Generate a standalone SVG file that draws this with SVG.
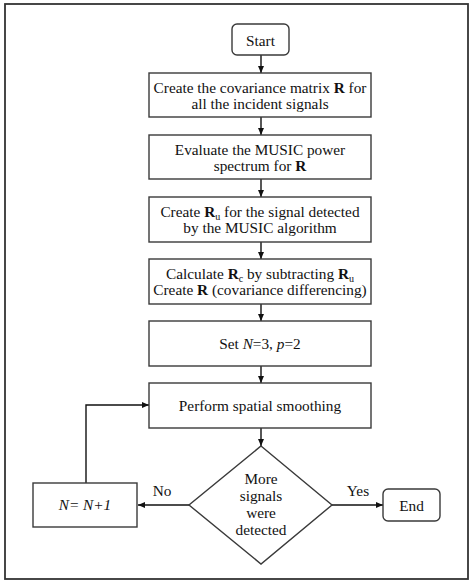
<svg xmlns="http://www.w3.org/2000/svg" width="474" height="586" viewBox="0 0 474 586">
<style>
.bx{fill:#fff;stroke:#3a3a3a;stroke-width:1.4}
.t{font-family:"Liberation Serif","DejaVu Serif",serif;font-size:15.3px;fill:#111;text-anchor:middle}
.c{fill:none;stroke:#111;stroke-width:1.4}
.b{font-weight:bold}
.i{font-style:italic}
.s{font-size:10px;baseline-shift:-3px}
</style>
<defs>
<marker id="ah" markerWidth="8" markerHeight="8" refX="7" refY="4" orient="auto" markerUnits="userSpaceOnUse">
<path d="M0,1 L7,4 L0,7 Z" fill="#111"/>
</marker>
</defs>
<rect x="0" y="0" width="474" height="586" fill="#fff"/>
<rect x="5" y="4" width="463" height="575" fill="none" stroke="#333" stroke-width="1.8"/>
<g id="connectors">
<line class="c" x1="261" y1="55" x2="261" y2="73" marker-end="url(#ah)"/>
<line class="c" x1="261" y1="117" x2="261" y2="135" marker-end="url(#ah)"/>
<line class="c" x1="261" y1="179" x2="261" y2="197" marker-end="url(#ah)"/>
<line class="c" x1="261" y1="242" x2="261" y2="259" marker-end="url(#ah)"/>
<line class="c" x1="261" y1="304" x2="261" y2="321" marker-end="url(#ah)"/>
<line class="c" x1="261" y1="366" x2="261" y2="383" marker-end="url(#ah)"/>
<line class="c" x1="261" y1="428" x2="261" y2="446" marker-end="url(#ah)"/>
<line class="c" x1="189" y1="505" x2="138" y2="505" marker-end="url(#ah)"/>
<line class="c" x1="332" y1="505" x2="383" y2="505" marker-end="url(#ah)"/>
<polyline class="c" points="86,483 86,405 149,405" marker-end="url(#ah)"/>
<text class="t" x="162" y="496">No</text>
<text class="t" x="358" y="496">Yes</text>
</g>
<g id="start">
<rect class="bx" x="232" y="24" width="57" height="31" rx="5"/>
<text class="t" x="260.5" y="45.5">Start</text>
</g>
<g id="box1">
<rect class="bx" x="149" y="73" width="222" height="44"/>
<text class="t" x="260" y="93">Create the covariance matrix <tspan class="b">R</tspan> for</text>
<text class="t" x="260" y="109">all the incident signals</text>
</g>
<g id="box2">
<rect class="bx" x="149" y="135" width="222" height="44"/>
<text class="t" x="260" y="155">Evaluate the MUSIC power</text>
<text class="t" x="260" y="171">spectrum for <tspan class="b">R</tspan></text>
</g>
<g id="box3">
<rect class="bx" x="149" y="197" width="222" height="45"/>
<text class="t" x="260" y="217">Create <tspan class="b">R</tspan><tspan class="s">u</tspan> for the signal detected</text>
<text class="t" x="260" y="233">by the MUSIC algorithm</text>
</g>
<g id="box4">
<rect class="bx" x="149" y="259" width="222" height="45"/>
<text class="t" x="260" y="279">Calculate <tspan class="b">R</tspan><tspan class="s">c</tspan> by subtracting <tspan class="b">R</tspan><tspan class="s">u</tspan></text>
<text class="t" x="260" y="295">Create <tspan class="b">R</tspan> (covariance differencing)</text>
</g>
<g id="box5">
<rect class="bx" x="149" y="321" width="222" height="45"/>
<text class="t" x="260" y="349">Set <tspan class="i">N</tspan>=3, <tspan class="i">p</tspan>=2</text>
</g>
<g id="box6">
<rect class="bx" x="149" y="383" width="222" height="45"/>
<text class="t" x="260" y="411">Perform spatial smoothing</text>
</g>
<g id="decision">
<polygon class="bx" points="261,446 332,505 261,564 189,505"/>
<text class="t" x="261" y="484">More</text>
<text class="t" x="261" y="501">signals</text>
<text class="t" x="261" y="518">were</text>
<text class="t" x="261" y="535">detected</text>
</g>
<g id="increment">
<rect class="bx" x="33" y="483" width="104" height="44"/>
<text class="t i" x="85" y="510">N= N+1</text>
</g>
<g id="end">
<rect class="bx" x="383" y="489" width="57" height="32" rx="5"/>
<text class="t" x="411.5" y="510.5">End</text>
</g>
</svg>
